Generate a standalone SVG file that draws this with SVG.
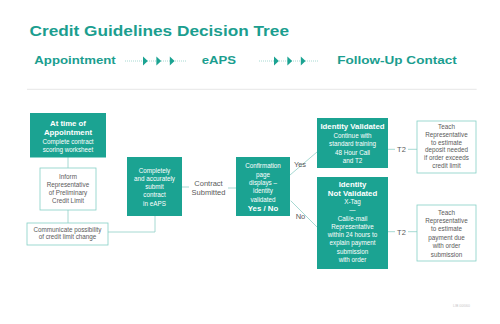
<svg xmlns="http://www.w3.org/2000/svg" width="500" height="324" viewBox="0 0 500 324">
<defs>
<style>
.hdr{font-family:"Liberation Sans",Arial,sans-serif;font-weight:bold;fill:#1b9e8f}
.box{fill:#1ba392}
.wbox{fill:#fff;stroke:#86d0c6;stroke-width:0.8}
.wt{font-family:"Liberation Sans",Arial,sans-serif;fill:#fff;font-size:6.3px;text-anchor:middle}
.wb{font-family:"Liberation Sans",Arial,sans-serif;fill:#fff;font-weight:bold;font-size:7.8px;text-anchor:middle}
.gt{font-family:"Liberation Sans",Arial,sans-serif;fill:#5a5a5a;font-size:6.3px;text-anchor:middle}
.lbl{font-family:"Liberation Sans",Arial,sans-serif;fill:#5a5a5a;font-size:7.5px;text-anchor:middle}
.con{fill:none;stroke:#8fcfc6;stroke-width:0.8}
.dot{fill:none;stroke:#8fcfc6;stroke-width:0.8;stroke-dasharray:1 1}
.tri{fill:#1ba392}
</style>
</defs>
<rect width="500" height="324" fill="#fff"/>
<g id="header">
<text class="hdr" x="29.5" y="36" font-size="15.5" textLength="259.5" lengthAdjust="spacingAndGlyphs">Credit Guidelines Decision Tree</text>
<text class="hdr" x="34.3" y="64" font-size="11.5" textLength="81.4" lengthAdjust="spacingAndGlyphs">Appointment</text>
<text class="hdr" x="201.7" y="64" font-size="11.5" textLength="34.3" lengthAdjust="spacingAndGlyphs">eAPS</text>
<text class="hdr" x="337.3" y="64" font-size="11.5" textLength="119.4" lengthAdjust="spacingAndGlyphs">Follow-Up Contact</text>
<line class="dot" x1="125" y1="61" x2="186" y2="61"/>
<polygon class="tri" points="143,56.5 147.8,61 143,65.5"/>
<polygon class="tri" points="156.4,56.5 161.2,61 156.4,65.5"/>
<polygon class="tri" points="169.8,56.5 174.6,61 169.8,65.5"/>
<line class="dot" x1="259" y1="61" x2="318" y2="61"/>
<polygon class="tri" points="274,56.5 278.8,61 274,65.5"/>
<polygon class="tri" points="287.4,56.5 292.2,61 287.4,65.5"/>
<polygon class="tri" points="300.8,56.5 305.6,61 300.8,65.5"/>
<line x1="27" y1="89.3" x2="476.7" y2="89.3" stroke="#e0e0e0" stroke-width="0.8"/>
</g>
<g id="connectors">
<line class="con" x1="68" y1="157" x2="68" y2="168"/>
<line class="con" x1="68" y1="210" x2="68" y2="223"/>
<polyline class="con" points="108,232 155,232 155,216"/>
<line class="con" x1="182" y1="187" x2="189" y2="187"/>
<line class="con" x1="228" y1="188" x2="236" y2="188"/>
<line class="con" x1="290" y1="175" x2="317" y2="152"/>
<line class="con" x1="290.7" y1="200.7" x2="318" y2="228"/>
<line class="con" x1="388" y1="149.3" x2="395" y2="149.3"/>
<line class="con" x1="408" y1="149.3" x2="417" y2="149.3"/>
<line class="con" x1="388" y1="231.7" x2="395" y2="231.7"/>
<line class="con" x1="408" y1="231.7" x2="417" y2="231.7"/>
<text class="lbl" x="208.5" y="186">Contract</text>
<text class="lbl" x="208.5" y="195">Submitted</text>
<text class="lbl" x="300" y="166.5">Yes</text>
<text class="lbl" x="300.5" y="218.5">No</text>
<text class="lbl" x="401.5" y="152">T2</text>
<text class="lbl" x="401.5" y="234.5">T2</text>
</g>
<g id="n1">
<rect class="box" x="30" y="113" width="76" height="44.5"/>
<text class="wb" x="68" y="126">At time of</text>
<text class="wb" x="68" y="135.3">Appointment</text>
<text class="wt" x="68" y="143.5">Complete contract</text>
<text class="wt" x="68" y="151.5">scoring worksheet</text>
</g>
<g id="n2">
<rect class="wbox" x="40" y="168" width="56" height="42"/>
<text class="gt" x="68" y="178.5">Inform</text>
<text class="gt" x="68" y="186.8">Representative</text>
<text class="gt" x="68" y="195">of Preliminary</text>
<text class="gt" x="68" y="203">Credit Limit</text>
</g>
<g id="n3">
<rect class="wbox" x="27" y="223" width="81" height="22"/>
<text class="gt" x="67.5" y="231.6">Communicate possibility</text>
<text class="gt" x="67.5" y="239">of credit limit change</text>
</g>
<g id="n4">
<rect class="box" x="127" y="157" width="55" height="59"/>
<text class="wt" x="154.5" y="172.5">Completely</text>
<text class="wt" x="154.5" y="180.8">and accurately</text>
<text class="wt" x="154.5" y="189">submit</text>
<text class="wt" x="154.5" y="197.3">contract</text>
<text class="wt" x="154.5" y="205.6">in eAPS</text>
</g>
<g id="n5">
<rect class="box" x="236" y="157" width="54" height="59"/>
<text class="wt" x="263" y="168.3">Confirmation</text>
<text class="wt" x="263" y="176.6">page</text>
<text class="wt" x="263" y="185">displays –</text>
<text class="wt" x="263" y="193.3">identity</text>
<text class="wt" x="263" y="201.6">validated</text>
<text class="wb" x="263" y="210.8">Yes / No</text>
</g>
<g id="n6">
<rect class="box" x="317" y="118" width="71" height="50"/>
<text class="wb" x="352.5" y="129">Identity Validated</text>
<text class="wt" x="352.5" y="137.5">Continue with</text>
<text class="wt" x="352.5" y="146">standard training</text>
<text class="wt" x="352.5" y="154.5">48 Hour Call</text>
<text class="wt" x="352.5" y="163">and T2</text>
</g>
<g id="n7">
<rect class="box" x="317" y="177" width="71" height="92"/>
<text class="wb" x="352.5" y="187">Identity</text>
<text class="wb" x="352.5" y="196">Not Validated</text>
<text class="wt" x="352.5" y="204">X-Tag</text>
<text class="wt" x="352.5" y="211.5">—</text>
<text class="wt" x="352.5" y="220.5">Call/e-mail</text>
<text class="wt" x="352.5" y="228.5">Representative</text>
<text class="wt" x="352.5" y="237">within 24 hours to</text>
<text class="wt" x="352.5" y="245.2">explain payment</text>
<text class="wt" x="352.5" y="253.5">submission</text>
<text class="wt" x="352.5" y="261.8">with order</text>
</g>
<g id="n8">
<rect class="wbox" x="417" y="121" width="59" height="52"/>
<text class="gt" x="446.5" y="129">Teach</text>
<text class="gt" x="446.5" y="136.7">Representative</text>
<text class="gt" x="446.5" y="144.6">to estimate</text>
<text class="gt" x="446.5" y="152.4">deposit needed</text>
<text class="gt" x="446.5" y="160">if order exceeds</text>
<text class="gt" x="446.5" y="168">credit limit</text>
</g>
<g id="n9">
<rect class="wbox" x="417" y="205" width="59" height="56"/>
<text class="gt" x="446.5" y="215">Teach</text>
<text class="gt" x="446.5" y="223">Representative</text>
<text class="gt" x="446.5" y="231.3">to estimate</text>
<text class="gt" x="446.5" y="239.6">payment due</text>
<text class="gt" x="446.5" y="248">with order</text>
<text class="gt" x="446.5" y="256.5">submission</text>
</g>
<text x="453" y="306.5" font-family="Liberation Sans,Arial,sans-serif" font-size="3.5" fill="#c8c8c8">LIB 00/060</text>
</svg>
